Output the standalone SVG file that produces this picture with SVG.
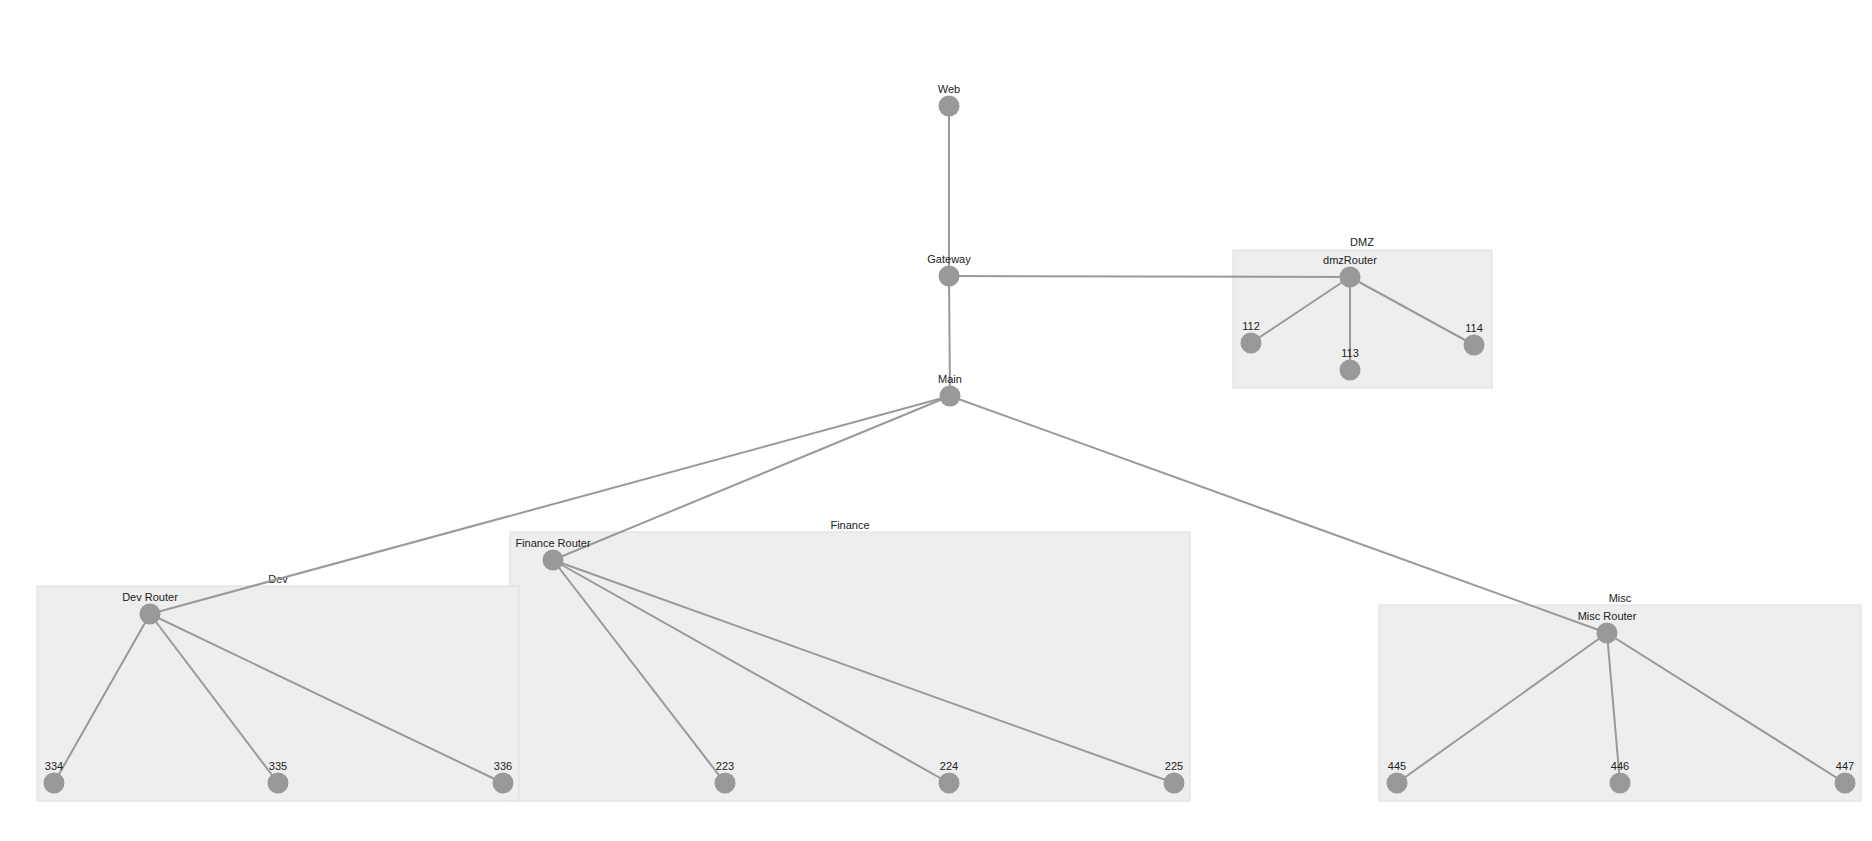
<svg xmlns="http://www.w3.org/2000/svg" width="1872" height="841" viewBox="0 0 1872 841">
<style>
.grp{fill:#eeeeee;stroke:#dddddd;stroke-width:1}
.gl{font-family:"Liberation Sans",Arial,sans-serif;font-size:11px;fill:#222;text-anchor:middle}
.e{stroke:#999;stroke-width:2;fill:none}
.n circle{fill:#999}
.n text{font-family:"Liberation Sans",Arial,sans-serif;font-size:11px;fill:#222;text-anchor:middle}
</style>
<rect width="1872" height="841" fill="#fff"/>
<g id="groups">
<rect class="grp" x="1233" y="250" width="259" height="138"/><text class="gl" x="1362" y="246">DMZ</text>
<rect class="grp" x="510" y="532" width="680" height="269"/><text class="gl" x="850" y="529">Finance</text>
<rect class="grp" x="37" y="586" width="482" height="215"/><text class="gl" x="278" y="583">Dev</text>
<rect class="grp" x="1379" y="605" width="482" height="196"/><text class="gl" x="1620" y="602">Misc</text>
</g>
<g id="connectors">
<line class="e" x1="949" y1="106" x2="949" y2="276"/>
<line class="e" x1="949" y1="276" x2="950" y2="396"/>
<line class="e" x1="949" y1="276" x2="1350" y2="277"/>
<line class="e" x1="1350" y1="277" x2="1251" y2="343"/>
<line class="e" x1="1350" y1="277" x2="1350" y2="370"/>
<line class="e" x1="1350" y1="277" x2="1474" y2="345"/>
<line class="e" x1="950" y1="396" x2="553" y2="560"/>
<line class="e" x1="950" y1="396" x2="150" y2="614"/>
<line class="e" x1="950" y1="396" x2="1607" y2="633"/>
<line class="e" x1="553" y1="560" x2="725" y2="783"/>
<line class="e" x1="553" y1="560" x2="949" y2="783"/>
<line class="e" x1="553" y1="560" x2="1174" y2="783"/>
<line class="e" x1="150" y1="614" x2="54" y2="783"/>
<line class="e" x1="150" y1="614" x2="278" y2="783"/>
<line class="e" x1="150" y1="614" x2="503" y2="783"/>
<line class="e" x1="1607" y1="633" x2="1397" y2="783"/>
<line class="e" x1="1607" y1="633" x2="1620" y2="783"/>
<line class="e" x1="1607" y1="633" x2="1845" y2="783"/>
</g>
<g id="web" class="n"><circle cx="949" cy="106" r="10.5"/><text x="949" y="93">Web</text></g>
<g id="gateway" class="n"><circle cx="949" cy="276" r="10.5"/><text x="949" y="263">Gateway</text></g>
<g id="main" class="n"><circle cx="950" cy="396" r="10.5"/><text x="950" y="383">Main</text></g>
<g id="dmzRouter" class="n"><circle cx="1350" cy="277" r="10.5"/><text x="1350" y="264">dmzRouter</text></g>
<g id="n112" class="n"><circle cx="1251" cy="343" r="10.5"/><text x="1251" y="330">112</text></g>
<g id="n113" class="n"><circle cx="1350" cy="370" r="10.5"/><text x="1350" y="357">113</text></g>
<g id="n114" class="n"><circle cx="1474" cy="345" r="10.5"/><text x="1474" y="332">114</text></g>
<g id="financeRouter" class="n"><circle cx="553" cy="560" r="10.5"/><text x="553" y="547">Finance Router</text></g>
<g id="n223" class="n"><circle cx="725" cy="783" r="10.5"/><text x="725" y="770">223</text></g>
<g id="n224" class="n"><circle cx="949" cy="783" r="10.5"/><text x="949" y="770">224</text></g>
<g id="n225" class="n"><circle cx="1174" cy="783" r="10.5"/><text x="1174" y="770">225</text></g>
<g id="devRouter" class="n"><circle cx="150" cy="614" r="10.5"/><text x="150" y="601">Dev Router</text></g>
<g id="n334" class="n"><circle cx="54" cy="783" r="10.5"/><text x="54" y="770">334</text></g>
<g id="n335" class="n"><circle cx="278" cy="783" r="10.5"/><text x="278" y="770">335</text></g>
<g id="n336" class="n"><circle cx="503" cy="783" r="10.5"/><text x="503" y="770">336</text></g>
<g id="miscRouter" class="n"><circle cx="1607" cy="633" r="10.5"/><text x="1607" y="620">Misc Router</text></g>
<g id="n445" class="n"><circle cx="1397" cy="783" r="10.5"/><text x="1397" y="770">445</text></g>
<g id="n446" class="n"><circle cx="1620" cy="783" r="10.5"/><text x="1620" y="770">446</text></g>
<g id="n447" class="n"><circle cx="1845" cy="783" r="10.5"/><text x="1845" y="770">447</text></g>
</svg>
